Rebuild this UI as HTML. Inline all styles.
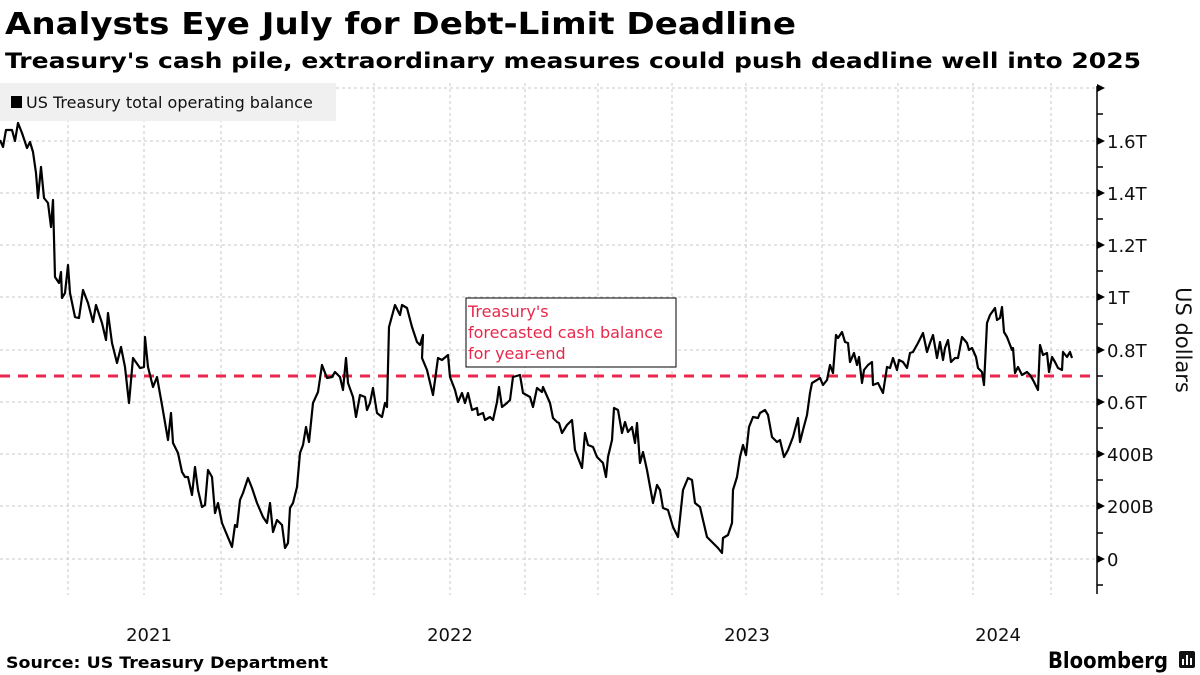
<!DOCTYPE html>
<html><head><meta charset="utf-8"><style>html,body{margin:0;padding:0;background:#fff}svg{display:block}</style></head>
<body>
<svg width="1200" height="675" viewBox="0 0 1200 675" xmlns="http://www.w3.org/2000/svg" font-family="'DejaVu Sans','Liberation Sans',sans-serif">
<rect width="1200" height="675" fill="#fff"/>
<text x="5" y="34" font-size="30" font-weight="bold" textLength="791" lengthAdjust="spacingAndGlyphs">Analysts Eye July for Debt-Limit Deadline</text>
<text x="5" y="68" font-size="21" font-weight="bold" textLength="1136" lengthAdjust="spacingAndGlyphs">Treasury's cash pile, extraordinary measures could push deadline well into 2025</text>
<g stroke="#c8c8c8" stroke-width="1" stroke-dasharray="3,3">
<line x1="0" y1="88" x2="1097" y2="88"/><line x1="0" y1="141" x2="1097" y2="141"/><line x1="0" y1="193" x2="1097" y2="193"/><line x1="0" y1="245" x2="1097" y2="245"/><line x1="0" y1="297" x2="1097" y2="297"/><line x1="0" y1="350" x2="1097" y2="350"/><line x1="0" y1="402" x2="1097" y2="402"/><line x1="0" y1="454" x2="1097" y2="454"/><line x1="0" y1="506" x2="1097" y2="506"/><line x1="0" y1="559" x2="1097" y2="559"/>
<line x1="68" y1="83" x2="68" y2="595"/><line x1="144" y1="83" x2="144" y2="595"/><line x1="221" y1="83" x2="221" y2="595"/><line x1="298" y1="83" x2="298" y2="595"/><line x1="374" y1="83" x2="374" y2="595"/><line x1="450" y1="83" x2="450" y2="595"/><line x1="525" y1="83" x2="525" y2="595"/><line x1="598" y1="83" x2="598" y2="595"/><line x1="672" y1="83" x2="672" y2="595"/><line x1="746" y1="83" x2="746" y2="595"/><line x1="822" y1="83" x2="822" y2="595"/><line x1="898" y1="83" x2="898" y2="595"/><line x1="973" y1="83" x2="973" y2="595"/><line x1="1051" y1="83" x2="1051" y2="595"/>
</g>
<rect x="0" y="83" width="336" height="38" fill="#f0f0f0"/>
<rect x="11" y="96" width="11" height="12" fill="#000"/>
<text x="26" y="108" font-size="16" fill="#111">US Treasury total operating balance</text>
<line x1="0" y1="376" x2="1097" y2="376" stroke="#e8274b" stroke-width="3" stroke-dasharray="10,8"/>
<polyline fill="none" stroke="#000" stroke-width="2.2" stroke-linejoin="round" points="0,140 3,147 6,130 12,130 15,141 18,123 22,133 27,148 30,142 33,152 36,173 38,198 41,167 44,198 48,203 51,227 53,200 55,277 59,283 61,272 62,298 65,293 68,265 70,293 75,317 79,318 83,290 88,303 93,322 96,305 102,323 106,340 108,313 112,343 117,363 121,347 125,367 129,403 133,358 140,368 144,367 145,337 148,367 153,387 157,377 162,405 168,440 171,413 173,443 178,453 182,472 185,477 188,477 192,495 195,467 198,490 202,507 205,505 208,470 212,477 215,513 218,503 222,523 227,535 232,547 235,525 237,527 240,500 243,493 248,478 252,488 257,503 263,517 267,523 270,503 273,532 277,520 282,525 285,548 288,543 290,508 293,503 297,487 300,453 303,445 306,427 309,442 313,403 318,392 322,365 327,378 332,377 335,372 340,377 343,390 346,358 348,383 353,397 356,417 360,395 365,397 367,410 370,403 373,388 377,413 382,417 385,403 387,407 389,327 395,305 400,315 402,305 407,308 412,327 417,342 420,345 423,335 422,358 427,370 433,395 438,358 442,360 448,355 450,377 455,390 458,402 462,393 465,403 468,393 472,410 477,408 478,415 483,413 485,420 490,417 493,420 497,402 499,387 502,407 507,403 510,400 513,377 520,375 523,393 530,397 533,407 537,388 542,392 543,387 550,403 553,418 557,422 559,423 562,433 567,425 572,420 575,450 582,468 585,433 588,445 593,447 597,457 600,460 603,463 606,477 608,457 612,440 614,408 618,410 622,433 625,422 628,432 632,427 635,443 637,423 640,463 643,452 647,470 653,503 657,485 660,490 663,508 668,510 673,527 678,537 683,490 688,478 692,480 695,503 700,507 703,520 707,537 712,542 718,548 722,553 723,538 728,535 732,523 733,490 737,477 740,457 743,445 746,455 749,427 753,417 758,418 760,413 765,410 768,415 772,437 777,442 780,440 784,457 788,450 793,437 798,418 800,442 803,430 807,415 810,393 812,383 817,380 820,378 823,385 827,380 830,365 833,373 836,335 838,338 842,332 845,342 848,343 850,362 854,353 857,365 859,357 862,383 864,370 868,365 872,362 873,385 878,383 883,393 887,367 890,368 893,358 897,370 899,360 903,362 907,368 910,353 913,352 918,343 923,333 927,352 930,343 933,335 937,358 940,342 943,360 945,348 948,340 951,362 955,358 958,358 962,337 967,343 969,350 972,348 976,357 978,368 982,372 984,385 987,323 990,315 995,308 997,320 1000,318 1002,307 1004,332 1007,337 1012,350 1013,348 1015,373 1018,367 1022,375 1027,372 1030,375 1033,380 1038,390 1040,345 1043,355 1047,353 1049,372 1052,357 1055,362 1058,368 1062,370 1063,352 1067,357 1070,352 1072,358"/>
<rect x="466" y="298" width="210" height="69" fill="#fff" stroke="#000" stroke-width="1"/>
<g fill="#e8274b" font-size="16"><text x="468" y="317">Treasury's</text><text x="468" y="338">forecasted cash balance</text><text x="468" y="359">for year-end</text></g>
<line x1="1097" y1="86" x2="1097" y2="594" stroke="#000" stroke-width="1.5"/>
<g stroke="#000" stroke-width="1.5">
<line x1="1097" y1="114" x2="1103" y2="114"/><line x1="1097" y1="167" x2="1103" y2="167"/><line x1="1097" y1="219" x2="1103" y2="219"/><line x1="1097" y1="271" x2="1103" y2="271"/><line x1="1097" y1="324" x2="1103" y2="324"/><line x1="1097" y1="376" x2="1103" y2="376"/><line x1="1097" y1="428" x2="1103" y2="428"/><line x1="1097" y1="480" x2="1103" y2="480"/><line x1="1097" y1="533" x2="1103" y2="533"/><line x1="1097" y1="585" x2="1103" y2="585"/>
</g>
<g fill="#000">
<path d="M1097,84 L1105,88 L1097,92Z"/><path d="M1097,137 L1105,141 L1097,145Z"/><path d="M1097,189 L1105,193 L1097,197Z"/><path d="M1097,241 L1105,245 L1097,249Z"/><path d="M1097,293 L1105,297 L1097,301Z"/><path d="M1097,346 L1105,350 L1097,354Z"/><path d="M1097,398 L1105,402 L1097,406Z"/><path d="M1097,450 L1105,454 L1097,458Z"/><path d="M1097,502 L1105,506 L1097,510Z"/><path d="M1097,555 L1105,559 L1097,563Z"/>
</g>
<g font-size="18" fill="#111">
<text x="1107" y="148">1.6T</text><text x="1107" y="200">1.4T</text><text x="1107" y="252">1.2T</text><text x="1107" y="304">1T</text><text x="1107" y="357">0.8T</text><text x="1107" y="409">0.6T</text><text x="1107" y="461">400B</text><text x="1107" y="513">200B</text><text x="1107" y="566">0</text>
</g>
<text transform="translate(1176,340) rotate(90)" font-size="21" text-anchor="middle" fill="#111">US dollars</text>
<g font-size="18" fill="#111" text-anchor="middle"><text x="149" y="641">2021</text><text x="450" y="641">2022</text><text x="747" y="641">2023</text><text x="998" y="641">2024</text></g>
<text x="6" y="668" font-size="16" font-weight="bold" textLength="322" lengthAdjust="spacingAndGlyphs">Source: US Treasury Department</text>
<text x="1048" y="668" font-size="22" font-weight="bold" textLength="120" lengthAdjust="spacingAndGlyphs">Bloomberg</text>
<rect x="1179" y="651" width="16" height="17" rx="2" fill="#111"/>
<g stroke="#fff" stroke-width="2"><line x1="1183" y1="659" x2="1183" y2="665"/><line x1="1187" y1="655" x2="1187" y2="665"/><line x1="1191" y1="658" x2="1191" y2="665"/></g>
</svg>
</body></html>
